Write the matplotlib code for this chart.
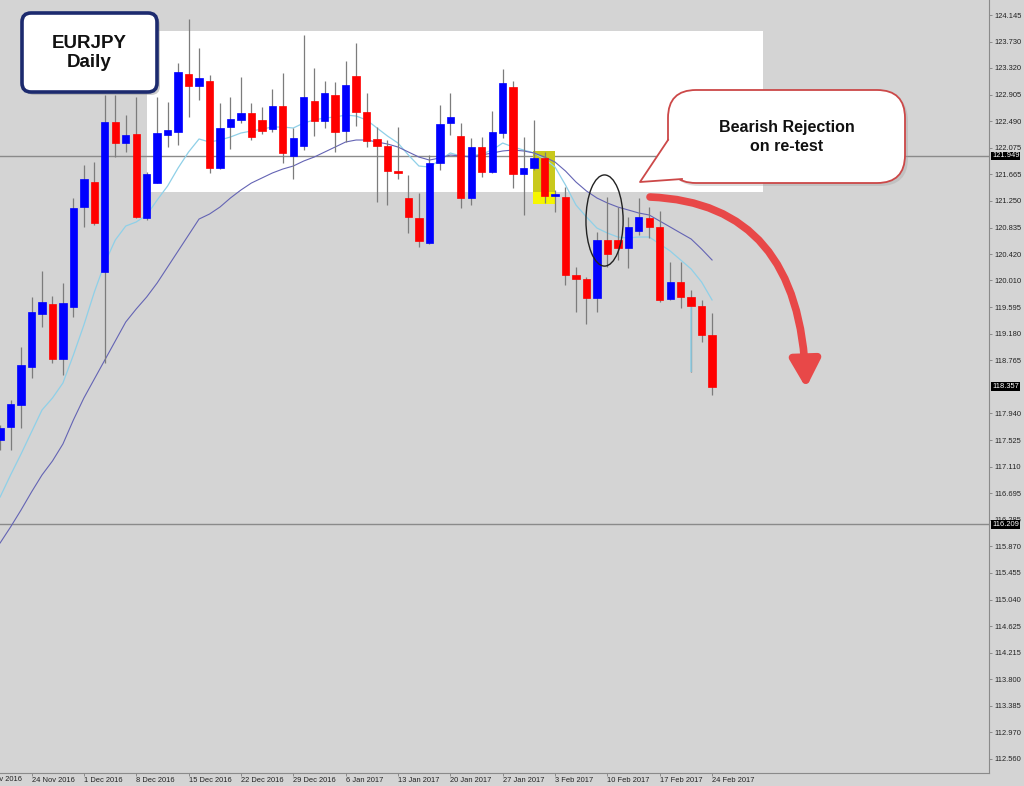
import numpy as np
import matplotlib.pyplot as plt
from matplotlib.patches import Rectangle, Ellipse, FancyBboxPatch, FancyArrowPatch, Polygon
from matplotlib.lines import Line2D
from matplotlib.path import Path
from matplotlib.transforms import Affine2D, blended_transform_factory

plt.rcParams['font.family'] = ['Liberation Sans', 'DejaVu Sans']

# bar number, 0 = 24 Nov 2016 (daily bars, weekends skipped)
bars = np.arange(-3, 66)

opens = [117.525, 117.728, 118.070, 118.662, 119.488, 119.644, 118.787, 119.597, 121.154, 121.544,
         120.142, 122.478, 122.151, 122.291, 120.983, 121.528, 122.276, 122.323, 123.226, 123.039,
         123.117, 121.762, 122.400, 122.510, 122.619, 122.510, 122.369, 122.728, 121.949, 122.105,
         122.805, 122.494, 122.899, 122.338, 123.195, 122.634, 122.214, 122.105, 121.715, 121.295,
         120.983, 120.594, 121.840, 122.463, 122.260, 121.295, 122.089, 121.700, 122.307, 123.024,
         121.668, 121.762, 121.918, 121.326, 121.310, 120.095, 120.033, 119.737, 120.640, 120.640,
         120.516, 120.781, 120.983, 120.843, 119.721, 119.986, 119.753, 119.612, 119.161]
highs = [117.759, 118.148, 118.974, 119.753, 120.158, 119.768, 119.971, 121.295, 121.809, 121.855,
         122.899, 122.899, 122.587, 122.868, 121.700, 122.868, 122.790, 123.397, 124.083, 123.631,
         123.210, 122.774, 122.868, 123.179, 122.774, 122.712, 122.992, 123.242, 122.385, 123.833,
         123.320, 123.117, 123.101, 123.428, 123.709, 122.930, 122.400, 122.198, 122.400, 121.653,
         121.372, 121.964, 122.743, 122.930, 122.463, 122.229, 122.245, 122.650, 123.304, 123.117,
         122.245, 122.510, 122.011, 121.419, 121.466, 120.220, 120.064, 120.765, 121.310, 121.154,
         120.999, 121.295, 121.154, 121.092, 120.298, 120.298, 119.862, 119.706, 119.503]
lows = [117.369, 117.369, 117.712, 118.491, 119.285, 118.725, 118.538, 119.441, 120.843, 120.874,
        118.725, 121.933, 122.011, 120.983, 120.952, 121.528, 122.089, 122.120, 122.556, 122.821,
        121.684, 121.746, 122.058, 122.463, 122.198, 122.291, 122.323, 121.840, 121.591, 122.042,
        122.260, 122.385, 122.011, 122.167, 122.416, 122.089, 121.232, 121.186, 121.591, 120.749,
        120.531, 120.578, 121.731, 122.276, 121.139, 121.186, 121.622, 121.684, 122.229, 121.450,
        121.030, 121.731, 121.217, 121.077, 119.939, 119.519, 119.332, 119.519, 120.220, 120.329,
        120.204, 120.718, 120.672, 119.675, 119.706, 119.581, 118.584, 119.052, 118.226]
closes = [117.712, 118.086, 118.693, 119.519, 119.675, 118.787, 119.659, 121.139, 121.591, 120.905,
          122.478, 122.151, 122.276, 120.999, 121.668, 122.307, 122.354, 123.257, 123.039, 123.164,
          121.762, 122.385, 122.525, 122.619, 122.245, 122.338, 122.728, 121.996, 122.229, 122.868,
          122.494, 122.930, 122.323, 123.055, 122.634, 122.182, 122.105, 121.715, 121.684, 120.999,
          120.625, 121.840, 122.447, 122.556, 121.295, 122.089, 121.700, 122.323, 123.086, 121.668,
          121.762, 121.918, 121.326, 121.357, 120.095, 120.033, 119.737, 120.640, 120.422, 120.516,
          120.843, 120.999, 120.843, 119.706, 119.986, 119.753, 119.612, 119.161, 118.357]

ma_fast = [116.637, 116.980, 117.307, 117.650, 117.992, 118.179, 118.413, 118.849, 119.316, 119.830,
           120.282, 120.640, 120.858, 120.921, 121.030, 121.263, 121.482, 121.762, 122.011, 122.214,
           122.167, 122.198, 122.245, 122.307, 122.338, 122.369, 122.400, 122.400, 122.385, 122.463,
           122.510, 122.541, 122.556, 122.587, 122.572, 122.510, 122.385, 122.260, 122.151, 121.964,
           121.793, 121.777, 121.886, 121.996, 121.949, 121.949, 121.980, 122.042, 122.151, 122.089,
           122.042, 121.996, 121.902, 121.777, 121.497, 121.186, 120.999, 120.827, 120.749, 120.687,
           120.672, 120.687, 120.687, 120.578, 120.469, 120.329, 120.189, 119.986, 119.706]
ma_slow = [115.921, 116.170, 116.435, 116.715, 116.980, 117.198, 117.463, 117.837, 118.179, 118.475,
           118.771, 119.067, 119.363, 119.566, 119.753, 119.971, 120.220, 120.469, 120.718, 120.967,
           121.045, 121.154, 121.295, 121.419, 121.528, 121.606, 121.684, 121.746, 121.793, 121.871,
           121.933, 122.011, 122.089, 122.167, 122.198, 122.198, 122.167, 122.136, 122.089, 122.011,
           121.933, 121.886, 121.918, 121.964, 121.949, 121.933, 121.964, 121.996, 122.027, 122.042,
           122.027, 121.996, 121.933, 121.855, 121.715, 121.544, 121.404, 121.295, 121.217, 121.154,
           121.108, 121.061, 121.030, 120.936, 120.843, 120.749, 120.656, 120.500, 120.329]

date_pos = [-5, 0, 5, 10, 15, 20, 25, 30, 35, 40, 45, 50, 55, 60, 65]
date_labels = ['17 Nov 2016', '24 Nov 2016', '1 Dec 2016', '8 Dec 2016', '15 Dec 2016',
               '22 Dec 2016', '29 Dec 2016', '6 Jan 2017', '13 Jan 2017', '20 Jan 2017',
               '27 Jan 2017', '3 Feb 2017', '10 Feb 2017', '17 Feb 2017', '24 Feb 2017']

price_ticks = [124.145, 123.730, 123.320, 122.905, 122.490, 122.075, 121.665, 121.250, 120.835,
               120.420, 120.010, 119.595, 119.180, 118.765, 117.940, 117.525, 117.110, 116.695,
               116.285, 115.870, 115.455, 115.040, 114.625, 114.215, 113.800, 113.385, 112.970,
               112.560]
last_price = 118.357
level_hi = 121.949
level_lo = 116.209

zone_x = (11.03, 69.87)       # white resistance zone
zone_y = (121.388, 123.896)
hilite_x = (47.93, 50.03)     # yellow highlight
hilite_y = (121.201, 121.388, 122.027)
circle_c = (54.73, 120.944)

BG = '#d4d4d4'
fig = plt.figure(figsize=(10.24, 7.86), dpi=100, facecolor=BG)
ax = fig.add_axes([0, 13 / 786, 989 / 1024, 773 / 786], facecolor=BG)

o = np.array(opens); h = np.array(highs); l = np.array(lows); c = np.array(closes)
up = c >= o
colors = np.where(up, '#0000ff', '#ff0000')

ax.add_patch(Rectangle((zone_x[0], zone_y[0]), zone_x[1] - zone_x[0], zone_y[1] - zone_y[0],
                       fc='white', ec='none', zorder=0.5))
ax.add_patch(Rectangle((hilite_x[0], hilite_y[1]), hilite_x[1] - hilite_x[0], hilite_y[2] - hilite_y[1],
                       fc='#c9c91c', ec='none', zorder=1.5))
ax.add_patch(Rectangle((hilite_x[0], hilite_y[0]), hilite_x[1] - hilite_x[0], hilite_y[1] - hilite_y[0],
                       fc='#f6f600', ec='none', zorder=1.5))

ax.axhline(level_hi, color='#8a8a8a', lw=1, zorder=1)
ax.axhline(level_lo, color='#8a8a8a', lw=1, zorder=1)

ax.plot(bars, ma_fast, color='#8fd0e8', lw=0.9, zorder=2)
ax.plot(bars, ma_slow, color='#6464b4', lw=0.8, zorder=2)

ax.vlines(bars, l, h, color='#7c7c7c', lw=0.9, zorder=3)
i63 = list(bars).index(63)
ax.vlines(bars[i63], l[i63], c[i63], color='#8fd0e8', lw=1.1, zorder=3.5)
body_h = np.maximum(np.abs(c - o), 0.03)
ax.bar(bars, body_h, bottom=np.minimum(o, c), width=0.7, color=colors, edgecolor=colors,
       lw=0.5, zorder=4)

ax.add_patch(Ellipse(circle_c, 3.55, 1.42, fc='none', ec='#222222', lw=1, zorder=5))

ax.set_xlim(-3.01, 91.45)
ax.set_ylim(112.338, 124.379)

ax.yaxis.tick_right()
ax.set_yticks(price_ticks)
ax.set_yticklabels(['%.3f' % p for p in price_ticks])
ax.set_xticks(date_pos[1:])
ax.set_xticklabels(date_labels[1:], ha='left')
ax.tick_params(axis='both', direction='out', length=2.5, width=0.6, color='#808080',
               labelsize=5.4, labelcolor='#222222')
ax.tick_params(axis='y', pad=1.5)
ax.tick_params(axis='x', pad=0.6)
ax.text(date_pos[0], -0.0045, date_labels[0], transform=blended_transform_factory(ax.transData, ax.transAxes),
        ha='left', va='top', fontsize=5.4, color='#222222', clip_on=False)
for s in ['top', 'left']:
    ax.spines[s].set_visible(False)
for s in ['right', 'bottom']:
    ax.spines[s].set_color('#8a8a8a')
    ax.spines[s].set_linewidth(0.8)

yb = blended_transform_factory(ax.transAxes, ax.transData)
for val in [level_hi, last_price, level_lo]:
    ax.text(1.003, val, '%.3f' % val, transform=yb, ha='left', va='center', fontsize=5.4,
            color='white', clip_on=False, zorder=10,
            bbox=dict(fc='black', ec='none', pad=0.7))

# annotations in image pixel coordinates
px = Affine2D().scale(1 / 1024, -1 / 786).translate(0, 1) + fig.transFigure

fig.add_artist(FancyBboxPatch((25, 16), 135, 79, boxstyle='round,pad=0,rounding_size=9',
                              fc='#9a9a9a', ec='none', alpha=0.5, transform=px, zorder=6))
fig.add_artist(FancyBboxPatch((22, 13), 135, 79, boxstyle='round,pad=0,rounding_size=9',
                              fc='white', ec='#1c2a6e', lw=2.6, transform=px, zorder=7))
fig.text(89.5, 53, 'EURJPY\nDaily', transform=px, ha='center', va='center', fontsize=13.5,
         fontweight='bold', color='#111111', linespacing=1.15, zorder=8)

fig.add_artist(FancyBboxPatch((671, 93), 237, 93, boxstyle='round,pad=0,rounding_size=28',
                              fc='#a0a0a0', ec='none', alpha=0.35, transform=px, zorder=6))
fig.add_artist(FancyBboxPatch((668, 90), 237, 93, boxstyle='round,pad=0,rounding_size=28',
                              fc='white', ec='#cc4848', lw=1.3, transform=px, zorder=7))
fig.add_artist(Polygon([(668, 140), (640, 182), (682, 179), (692, 160)], closed=True,
                       fc='white', ec='none', transform=px, zorder=7.5))
fig.add_artist(Line2D([668, 640, 682], [140, 182, 179], color='#cc4848', lw=1.3,
                      transform=px, zorder=8))
fig.text(787, 137, 'Bearish Rejection\non re-test', transform=px, ha='center', va='center',
         fontsize=11.5, fontweight='bold', color='#111111', linespacing=1.35, zorder=9)

arrow_path = Path([(650, 197), (800, 203), (806, 388)], [Path.MOVETO, Path.CURVE3, Path.CURVE3])
fig.add_artist(FancyArrowPatch(path=arrow_path, arrowstyle='-|>,head_length=0.55,head_width=0.3',
                               mutation_scale=30, color='#e84848', lw=5.5, capstyle='round',
                               transform=px, zorder=9))

fig.savefig('out.png', dpi=100, facecolor=BG)
